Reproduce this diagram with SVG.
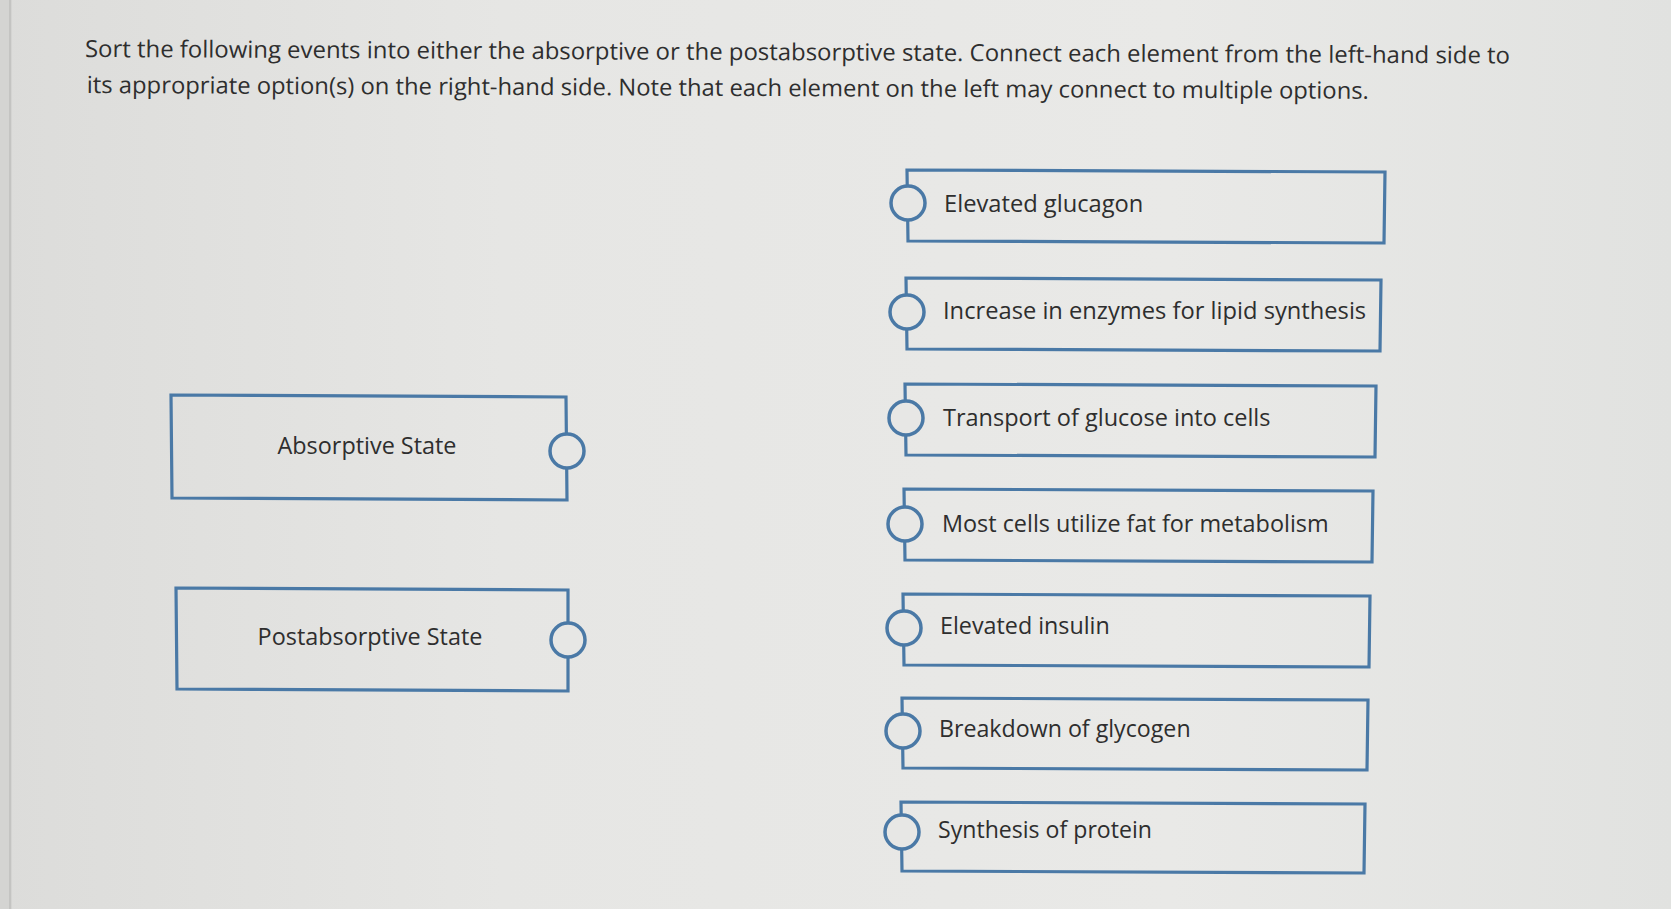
<svg xmlns="http://www.w3.org/2000/svg" width="1671" height="909" viewBox="0 0 1671 909">
<defs>
<linearGradient id="bg" x1="0" y1="0" x2="1" y2="0">
<stop offset="0" stop-color="#dcdcda"/>
<stop offset="0.3" stop-color="#e6e6e4"/>
<stop offset="0.7" stop-color="#e9e9e7"/>
<stop offset="1" stop-color="#e1e2e0"/>
</linearGradient>
<style>
.box{fill:none;stroke:#4a79a6;stroke-width:3.2}
.port{fill:#e7e7e5;stroke:#4a79a6;stroke-width:3.5}
.lbl{font-family:"Open Sans","Noto Sans",sans-serif;font-size:23.7px;fill:#2e2e2e}
.title{font-family:"Open Sans","Noto Sans",sans-serif;font-size:23.5px;fill:#2e2e2e}
</style>
</defs>
<rect x="0" y="0" width="1671" height="909" fill="url(#bg)"/>
<rect x="0" y="0" width="12" height="909" fill="#d4d4d2"/>
<line x1="10" y1="0" x2="10" y2="909" stroke="#c4c4c2" stroke-width="2"/>

<g id="title" transform="rotate(0.26 85 58)">
<text class="title" x="85" y="57" textLength="1425" lengthAdjust="spacingAndGlyphs">Sort the following events into either the absorptive or the postabsorptive state. Connect each element from the left-hand side to</text>
<text class="title" x="87" y="93" textLength="1282" lengthAdjust="spacingAndGlyphs">its appropriate option(s) on the right-hand side. Note that each element on the left may connect to multiple options.</text>
</g>

<g id="connectors"></g>

<g id="absorptive">
<path class="box" d="M171 395 L566 397 L567 500 L172 498 Z"/>
<circle class="port" cx="567" cy="451" r="17"/>
<text class="lbl" x="367" y="454" text-anchor="middle" style="font-size:23.4px">Absorptive State</text>
</g>
<g id="postabsorptive">
<path class="box" d="M176 588 L568 590 L568 691 L177 689 Z"/>
<circle class="port" cx="568" cy="640" r="17"/>
<text class="lbl" x="370" y="645" text-anchor="middle" style="font-size:23.4px">Postabsorptive State</text>
</g>

<g id="opt-glucagon">
<path class="box" d="M907 170 L1385 172 L1384 243 L908 241 Z"/>
<circle class="port" cx="908" cy="203" r="17"/>
<text class="lbl" x="944" y="212">Elevated glucagon</text>
</g>
<g id="opt-lipid">
<path class="box" d="M906 278 L1381 280 L1380 351 L907 349 Z"/>
<circle class="port" cx="907" cy="312" r="17"/>
<text class="lbl" x="943" y="319">Increase in enzymes for lipid synthesis</text>
</g>
<g id="opt-glucose">
<path class="box" d="M905 384 L1376 386 L1375 457 L906 455 Z"/>
<circle class="port" cx="906" cy="418" r="17"/>
<text class="lbl" x="943" y="426" style="font-size:23.5px">Transport of glucose into cells</text>
</g>
<g id="opt-fat">
<path class="box" d="M904 489 L1373 491 L1372 562 L905 560 Z"/>
<circle class="port" cx="905" cy="524" r="17"/>
<text class="lbl" x="942" y="532" style="font-size:23.4px">Most cells utilize fat for metabolism</text>
</g>
<g id="opt-insulin">
<path class="box" d="M903 594 L1370 596 L1369 667 L904 665 Z"/>
<circle class="port" cx="904" cy="628" r="17"/>
<text class="lbl" x="940" y="634" style="font-size:23.3px">Elevated insulin</text>
</g>
<g id="opt-glycogen">
<path class="box" d="M902 698 L1368 700 L1367 770 L903 768 Z"/>
<circle class="port" cx="903" cy="731" r="17"/>
<text class="lbl" x="939" y="737" style="font-size:23.2px">Breakdown of glycogen</text>
</g>
<g id="opt-protein">
<path class="box" d="M901 802 L1365 804 L1364 873 L902 871 Z"/>
<circle class="port" cx="902" cy="832" r="17"/>
<text class="lbl" x="938" y="838" style="font-size:23.1px">Synthesis of protein</text>
</g>
</svg>
